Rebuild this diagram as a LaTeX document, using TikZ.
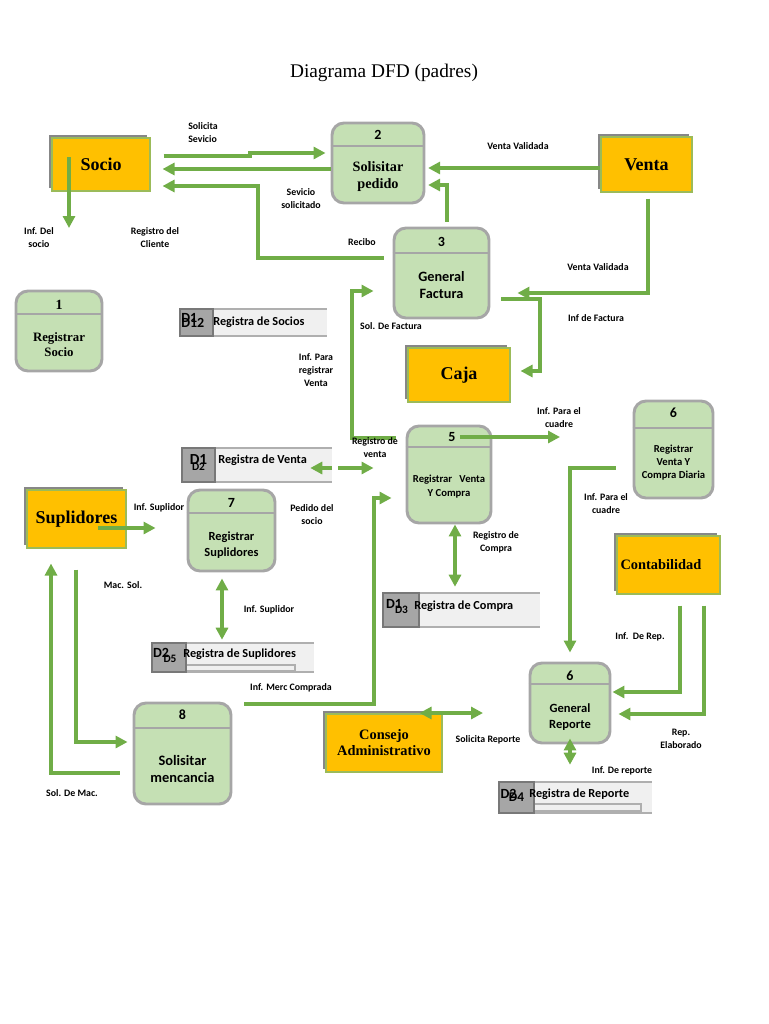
\documentclass[tikz,border=0pt]{standalone}
\usepackage{fontspec}
\setmainfont{Liberation Serif}
\newfontfamily\carlito{Carlito}
\usetikzlibrary{arrows.meta, shadows}

\definecolor{flowgreen}{RGB}{112, 173, 71}
\definecolor{procgreen}{RGB}{197, 224, 180}
\definecolor{procgray}{RGB}{166, 166, 166}
\definecolor{entyellow}{RGB}{255, 192, 0}
\definecolor{entborder}{RGB}{155, 187, 89}
\definecolor{shadowgray}{RGB}{135, 135, 135}
\definecolor{storefill}{RGB}{240, 240, 240}
\definecolor{storegray}{RGB}{175, 175, 175}
\definecolor{idgray}{RGB}{166, 166, 166}
\definecolor{iddark}{RGB}{120, 120, 120}

\tikzset{
  sz/.style 2 args={minimum width=#1*0.75pt, minimum height=#2*0.75pt},
  flow/.style={draw=flowgreen, line width=3pt, -{Triangle[length=9pt, width=9pt]}},
  flowboth/.style={flow, {Triangle[length=9pt, width=9pt]}-{Triangle[length=9pt, width=9pt]}},
  process/.style={draw=procgray, fill=procgreen, line width=2.2pt, rounded corners=9pt, inner sep=0pt},
  sepline/.style={draw=procgray, line width=2pt},
  pnum/.style={font=\carlito\bfseries\fontsize{10.5}{12}\selectfont, inner sep=0pt},
  ptext/.style={font=\carlito\bfseries\fontsize{10.7}{12.75}\selectfont, align=center, inner sep=0pt},
  entity/.style={fill=entyellow, draw=entborder, line width=0.8pt, align=center,
    general shadow={fill=shadowgray, shadow xshift=-2.6pt, shadow yshift=2.6pt},
    font=\bfseries\fontsize{13.5}{15}\selectfont},
  store/.style={fill=storefill, inner sep=0pt},
  storeline/.style={draw=storegray, line width=1.8pt},
  storeid/.style={fill=idgray, draw=iddark, line width=1.2pt, inner sep=0pt},
  stxt/.style={font=\carlito\bfseries\fontsize{9.2}{11}\selectfont, anchor=west, inner sep=0pt},
  idbig/.style={font=\carlito\bfseries\fontsize{10.5}{12}\selectfont, inner sep=0pt},
  idsmall/.style={font=\carlito\bfseries\fontsize{8.5}{10}\selectfont, inner sep=0pt},
  lbl/.style={font=\carlito\bfseries\fontsize{7.4}{9.75}\selectfont, align=center, inner sep=0pt}
}

\begin{document}
\begin{tikzpicture}[x=0.75pt, y=-0.75pt]
  \useasboundingbox (0,0) rectangle (768,1024);

  % Title
  \node[font=\fontsize{14.5}{17}\selectfont] (title) at (384,73) {Diagrama DFD (padres)};

  % External entities
  \node[entity, sz={98}{53}] (socio) at (101,164.5) {Socio};
  \node[entity, sz={91}{55}] (venta) at (646.5,164.5) {Venta};
  \node[entity, sz={102}{54}] (caja) at (459,375) {Caja};
  \node[entity, sz={99}{58}] (suplidores) at (76.5,519) {Suplidores};
  \node[entity, sz={103}{58}, font=\bfseries\fontsize{10.8}{12}\selectfont, text width=72pt, inner xsep=1.5pt, align=left] (contab) at (668.5,565) {Contabilidad};
  \node[entity, sz={116}{58}, font=\bfseries\fontsize{10.8}{12}\selectfont] (consejo) at (384,743) {Consejo\\Administrativo};

  % Processes
  \node[process, sz={86}{80}] (p1) at (59,331) {};
  \node[process, sz={92}{80}] (p2) at (378,163) {};
  \node[process, sz={95}{90}] (p3) at (441.5,273) {};
  \node[process, sz={84}{97}] (p5) at (449,474.5) {};
  \node[process, sz={79}{97}] (p6a) at (673.5,449.5) {};
  \node[process, sz={87}{81}] (p7) at (231.5,530.5) {};
  \node[process, sz={97}{101}] (p8) at (182.5,753.5) {};
  \node[process, sz={80}{80}] (p6b) at (570,703) {};
  \foreach \p/\s in {p1/314, p2/146, p3/253, p5/447, p6a/428, p7/513, p8/728, p6b/684}
    \draw[sepline] (\p.west |- 0,\s) -- (\p.east |- 0,\s);

  \node[pnum, font=\bfseries\fontsize{10.5}{12}\selectfont] (p1num) at (59,305) {1};
  \node[pnum] (p2num) at (378,135) {2};
  \node[pnum] (p3num) at (441.5,242) {3};
  \node[pnum] (p5num) at (452,437) {5};
  \node[pnum] (p6anum) at (673.5,413) {6};
  \node[pnum] (p7num) at (231.5,503) {7};
  \node[pnum] (p8num) at (182.5,715) {8};
  \node[pnum] (p6bnum) at (570,676) {6};

  \node[ptext, font=\bfseries\fontsize{9.6}{11.25}\selectfont] (p1txt) at (59,344.5) {Registrar\\Socio};
  \node[ptext, font=\bfseries\fontsize{10.7}{12.75}\selectfont] (p2txt) at (378,176.5) {Solisitar\\pedido};
  \node[ptext] (p3txt) at (441.5,285.5) {General\\Factura};
  \node[ptext, font=\carlito\bfseries\fontsize{8}{10.25}\selectfont] (p5txt) at (449,486.5) {Registrar\ \ \ Venta\\Y Compra};
  \node[ptext, font=\carlito\bfseries\fontsize{8}{10}\selectfont] (p6atxt) at (673.5,462.5) {Registrar\\Venta Y\\Compra Diaria};
  \node[ptext, font=\carlito\bfseries\fontsize{9.3}{12}\selectfont] (p7txt) at (231.5,545) {Registrar\\Suplidores};
  \node[ptext, font=\carlito\bfseries\fontsize{10.8}{12.75}\selectfont] (p8txt) at (182.5,768.5) {Solisitar\\mencancia};
  \node[ptext, font=\carlito\bfseries\fontsize{9.4}{12}\selectfont] (p6btxt) at (570,717) {General\\Reporte};

  % Data stores
  \node[store, sz={147}{27}] (ds1) at (253.5,322.5) {};
  \node[store, sz={150}{34}] (ds2) at (257,465) {};
  \node[store, sz={157}{34}] (ds3) at (461.5,610) {};
  \node[store, sz={162}{29}] (ds5) at (233,657.5) {};
  \node[store, sz={153}{31}] (ds4) at (575.5,797.5) {};
  \foreach \s in {ds1, ds2, ds3, ds5, ds4}
    \draw[storeline] (\s.north west) -- (\s.north east) (\s.south west) -- (\s.south east);
  \draw[storegray, line width=0.8pt] (154,665) rectangle (295,671);
  \draw[storegray, line width=0.8pt] (501,804) rectangle (641,811);

  \node[storeid, sz={33}{27}] (ds1id) at (196.5,322.5) {};
  \node[storeid, sz={33}{34}] (ds2id) at (198.5,465) {};
  \node[storeid, sz={36}{34}] (ds3id) at (401,610) {};
  \node[storeid, sz={34}{29}] (ds5id) at (169,657.5) {};
  \node[storeid, sz={35}{31}] (ds4id) at (516.5,797.5) {};

  \node[idbig, anchor=west] (ds1a) at (181,318) {D1};
  \node[idbig, anchor=west] (ds1b) at (181,323) {D12};
  \node[idbig, font=\carlito\bfseries\fontsize{11.5}{12}\selectfont] (ds2a) at (198.5,460) {D1};
  \node[idsmall] (ds2b) at (198.5,467) {D2};
  \node[idbig] (ds3a) at (394,603.5) {D1};
  \node[idsmall] (ds3b) at (401.5,610) {D3};
  \node[idbig] (ds5a) at (161,653) {D2};
  \node[idsmall] (ds5b) at (170,658.5) {D5};
  \node[idbig] (ds4a) at (508.5,793.5) {D2};
  \node[idsmall, font=\carlito\bfseries\fontsize{10}{12}\selectfont] (ds4b) at (516.5,797.5) {D4};

  \node[stxt] (ds1txt) at (213,322) {Registra de Socios};
  \node[stxt] (ds2txt) at (218,460) {Registra de Venta};
  \node[stxt] (ds3txt) at (414,606) {Registra de Compra};
  \node[stxt] (ds5txt) at (183,654) {Registra de Suplidores};
  \node[stxt] (ds4txt) at (529,794) {Registra de Reporte};

  % Flows round Socio
  \draw[flow, shorten <=9.75pt, shorten >=3.75pt] (socio.east |- 0,156) -- (250,156) -- (250,153) -- (p2.west |- 0,153);
  \draw[flow, shorten >=9pt] (p2.west |- 0,169) -- (socio.east |- 0,169);
  \draw[flow, shorten <=6.75pt, shorten >=9pt] (p3.west |- 0,258) -| (258,186) -- (socio.east |- 0,186);
  \coordinate (infsocio) at (69,228);
  \draw[flow, shorten <=-5.6pt] (infsocio |- socio.center) -- (infsocio);

  % Flows round Venta
  \draw[flow, shorten >=2pt] (venta.west |- 0,168) -- (p2.east |- 0,168);
  \draw[flow, shorten <=3.75pt, shorten >=2pt] (p3.north -| 447,0) |- (p2.east |- 0,185);
  \draw[flow, shorten <=4.5pt, shorten >=20.25pt] (venta.south -| 648,0) |- (p3.east |- 0,293);
  \draw[flow, shorten <=8.25pt, shorten >=7.5pt] (p3.east |- 0,299) -| (540,371) -- (caja.east |- 0,371);

  % Flows round process 5
  \draw[flow, shorten <=7.5pt, shorten >=14.25pt] (p5.west |- 0,438) -- (352,438) |- (p3.west |- 0,291);
  \coordinate (regventa) at (335,468);
  \draw[flow, shorten <=2.25pt, shorten >=-16.5pt] (regventa) -- (ds2.east |- regventa);
  \draw[flow, shorten <=2.25pt, shorten >=24pt] (regventa) -- (p5.west |- regventa);
  \draw[flow, shorten <=9pt, shorten >=10.5pt] (p8.east |- 0,704) -| (374,498) -- (p5.west |- 0,498);
  \coordinate (cuadre) at (560,437);
  \draw[flow, shorten <=8.25pt] (p5.center |- cuadre) -- (cuadre);
  \draw[flowboth, shorten >=4.5pt] (p5.south -| 455,0) -- (ds3.north -| 455,0);

  % Flows round the report
  \draw[flow, shorten <=12.75pt, shorten >=6.75pt] (p6a.west |- 0,468) -| (p6b.north);
  \draw[flow, shorten <=8.25pt, shorten >=0.75pt] (contab.south -| 680,0) |- (p6b.east |- 0,692);
  \draw[flow, shorten <=8.25pt, shorten >=5.25pt] (contab.south -| 704,0) |- (p6b.east |- 0,714);
  \draw[flowboth, shorten <=-4.5pt, shorten >=12.75pt] (p6b.south) -- (p6b.south |- ds4.north);
  \coordinate (solreporte) at (483,713);
  \draw[flowboth, shorten <=-17.25pt] (consejo.east |- solreporte) -- (solreporte);

  % Flows round Suplidores
  \draw[flow, shorten <=16pt, shorten >=23.25pt] (suplidores.center |- 0,528) -- (p7.west |- 0,528);
  \draw[flowboth, shorten <=4.5pt, shorten >=2.25pt] (p7.south -| 222,0) -- (ds5.north -| 222,0);
  \draw[flow, shorten <=9.75pt, shorten >=11.25pt] (p8.west |- 0,773) -| (suplidores.south -| 51,0);
  \draw[flow, shorten <=15.75pt, shorten >=3.75pt] (suplidores.south -| 76,0) |- (p8.west |- 0,742);

  % Labels
  \node[lbl, anchor=west, align=left] (l1) at (188,132.5) {Solicita\\Sevicio};
  \node[lbl] (l2) at (301,198.5) {Sevicio\\solicitado};
  \node[lbl] (l3) at (39,237.5) {Inf. Del\\socio};
  \node[lbl] (l4) at (155,237.5) {Registro del\\Cliente};
  \node[lbl] (l5) at (362,242) {Recibo};
  \node[lbl] (l6) at (518,146) {Venta Validada};
  \node[lbl] (l7) at (598,267) {Venta Validada};
  \node[lbl] (l8) at (596,318) {Inf de Factura};
  \node[lbl] (l9) at (391,326) {Sol. De Factura};
  \node[lbl] (l10) at (316,370) {Inf. Para\\registrar\\Venta};
  \node[lbl] (l11) at (375,448) {Registro de\\venta};
  \node[lbl] (l12) at (559,417.5) {Inf. Para el\\cuadre};
  \node[lbl] (l13) at (606,503.5) {Inf. Para el\\cuadre};
  \node[lbl] (l14) at (496,542) {Registro de\\Compra};
  \node[lbl] (l15) at (312,514.5) {Pedido del\\socio};
  \node[lbl] (l16) at (159,508) {Inf. Suplidor};
  \node[lbl] (l17) at (269,610) {Inf. Suplidor};
  \node[lbl] (l18) at (123,585) {Mac. Sol.};
  \node[lbl] (l19) at (291,688) {Inf. Merc Comprada};
  \node[lbl] (l20) at (72,793) {Sol. De Mac.};
  \node[lbl] (l21) at (488,740) {Solicita Reporte};
  \node[lbl] (l22) at (622,771) {Inf. De reporte};
  \node[lbl] (l23) at (681,738.5) {Rep.\\Elaborado};
  \node[lbl] (l24) at (640,637) {Inf.\ \ De Rep.};
\end{tikzpicture}
\end{document}
